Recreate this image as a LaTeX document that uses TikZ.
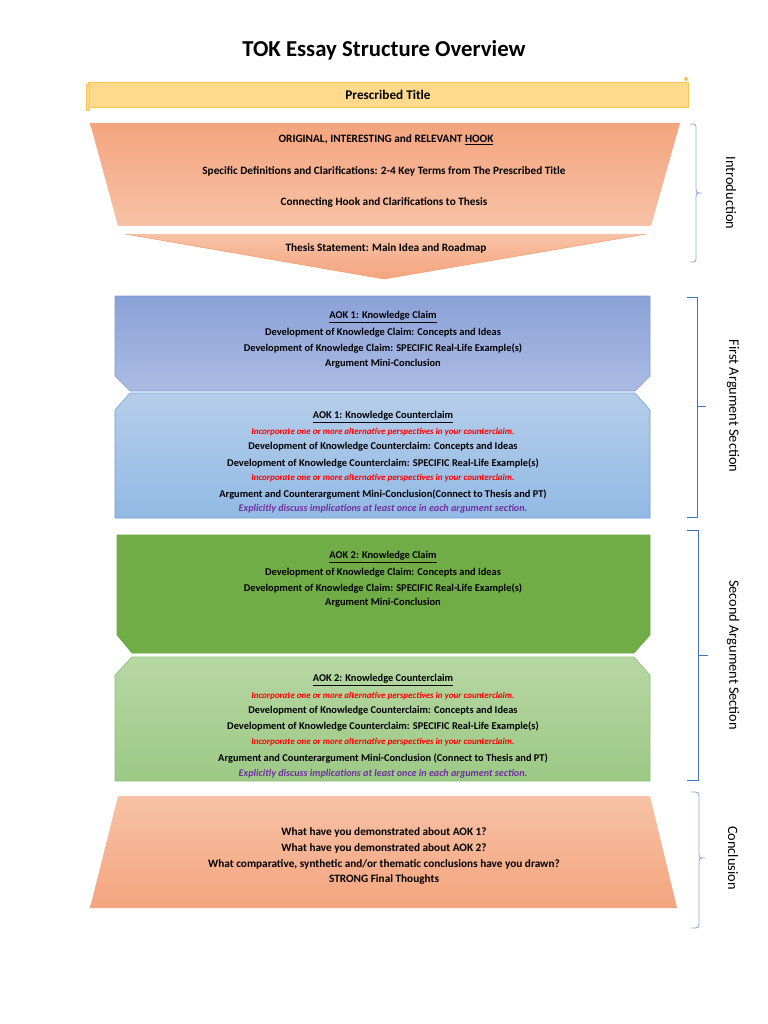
\documentclass[tikz,border=0pt]{standalone}
\usepackage{fontspec}
\setmainfont{Carlito}
\definecolor{hookA}{HTML}{F4A47E}
\definecolor{hookB}{HTML}{F7C2A6}
\definecolor{hookline}{HTML}{F4A070}
\definecolor{scrollfill}{HTML}{FFD98C}
\definecolor{scrollline}{HTML}{F8C64E}
\definecolor{claimA}{HTML}{8BA2D8}
\definecolor{claimB}{HTML}{ABBBE3}
\definecolor{claimline}{HTML}{7F9BD6}
\definecolor{counterA}{HTML}{B5CDEA}
\definecolor{counterB}{HTML}{92BAE5}
\definecolor{counterline}{HTML}{6C9ED6}
\definecolor{greenA}{HTML}{70AD47}
\definecolor{greenline}{HTML}{6AA842}
\definecolor{lgreenA}{HTML}{B7D7A3}
\definecolor{lgreenB}{HTML}{9CC986}
\definecolor{lgreenline}{HTML}{8DC072}
\definecolor{bracelight}{HTML}{8EA9DC}
\definecolor{bracedark}{HTML}{4472C4}
\definecolor{warnred}{HTML}{FF0000}
\definecolor{hintpurple}{HTML}{7030A0}
\tikzset{
  ln/.style={font=\fontsize{7.4}{9}\selectfont\bfseries,yshift=-1.5pt},
  lnbig/.style={font=\fontsize{8}{9.5}\selectfont\bfseries,yshift=-1.5pt},
  warn/.style={font=\fontsize{6.4}{7.5}\selectfont\bfseries\itshape,text=warnred,yshift=-1.2pt},
  hint/.style={font=\fontsize{7.2}{8.5}\selectfont\bfseries\itshape,text=hintpurple,yshift=-1.2pt},
  side/.style={font=\fontsize{10.2}{12}\selectfont,rotate=-90},
  brc/.style={draw=bracelight,line width=0.6pt},
  sqb/.style={draw=bracedark,line width=0.7pt}
}
\begin{document}
\begin{tikzpicture}[x=0.025cm,y=-0.025cm]
\useasboundingbox (0,0) rectangle (768,1024);
% title and scroll
\node (title) at (384,50)[font=\fontsize{16.2}{18}\selectfont\bfseries]{TOK Essay Structure Overview};
\draw[scrollline,fill=scrollfill,line width=0.6pt] (88,82) rectangle (688,107);
\draw[scrollline,fill=scrollfill,line width=0.6pt] (86,84) rectangle (89,110);
\draw[scrollline,fill=scrollfill!70!gray,line width=0.6pt] (686,79) circle (1.8);
\node (pt) at (388,94)[font=\fontsize{9.4}{11}\selectfont\bfseries,yshift=-1pt]{Prescribed Title};
% introduction
\coordinate (i1) at (90,123);
\coordinate (i2) at (680,123);
\coordinate (i3) at (651,226);
\coordinate (i4) at (118,226);
\shade[top color=hookA,bottom color=hookB] (i1) -- (i2) -- (i3) -- (i4) -- cycle;
\node (hook) at (386,138)[lnbig]{ORIGINAL, INTERESTING and RELEVANT \underline{HOOK}};
\node (defs) at (384,169)[lnbig]{Specific Definitions and Clarifications: 2-4 Key Terms from The Prescribed Title};
\node (conn) at (384,200)[lnbig]{Connecting Hook and Clarifications to Thesis};
\coordinate (t1) at (125,234);
\coordinate (t2) at (646,234);
\coordinate (t3) at (384,279);
\shade[top color=hookB,bottom color=hookA] (t1) -- (t2) -- (t3) -- cycle;
\draw[hookline,line width=0.4pt] (t1) -- (t3) -- (t2);
\node (thesis) at (386,246)[lnbig]{Thesis Statement: Main Idea and Roadmap};
% first argument
\shade[top color=claimA,bottom color=claimB,draw=claimline] (115,296) -- (650,296) -- (650,376) -- (635,391) -- (130,391) -- (115,376) -- cycle;
\node (c1) at (383,315)[ln]{\underline{AOK 1: Knowledge Claim}};
\node (c1a) at (383,331)[ln]{Development of Knowledge Claim: Concepts and Ideas};
\node (c1b) at (383,346)[ln]{Development of Knowledge Claim: SPECIFIC Real-Life Example(s)};
\node (c1c) at (383,362)[ln]{Argument Mini-Conclusion};
\shade[top color=counterA,bottom color=counterB,draw=counterline] (130,393) -- (635,393) -- (650,410) -- (650,518) -- (115,518) -- (115,410) -- cycle;
\node (k1) at (383,415)[ln]{\underline{AOK 1: Knowledge Counterclaim}};
\node (k1w) at (383,430)[warn]{Incorporate one or more alternative perspectives in your counterclaim.};
\node (k1a) at (383,445)[ln]{Development of Knowledge Counterclaim: Concepts and Ideas};
\node (k1b) at (383,461)[ln]{Development of Knowledge Counterclaim: SPECIFIC Real-Life Example(s)};
\node (k1v) at (383,476)[warn]{Incorporate one or more alternative perspectives in your counterclaim.};
\node (k1c) at (383,492)[ln]{Argument and Counterargument Mini-Conclusion(Connect to Thesis and PT)};
\node (k1h) at (383,507)[hint]{Explicitly discuss implications at least once in each argument section.};
% second argument
\fill[greenA,draw=greenline] (117,535) -- (650,535) -- (650,635) -- (634,653) -- (132,653) -- (117,635) -- cycle;
\node (c2) at (383,555)[ln]{\underline{AOK 2: Knowledge Claim}};
\node (c2a) at (383,571)[ln]{Development of Knowledge Claim: Concepts and Ideas};
\node (c2b) at (383,586)[ln]{Development of Knowledge Claim: SPECIFIC Real-Life Example(s)};
\node (c2c) at (383,601)[ln]{Argument Mini-Conclusion};
\shade[top color=lgreenA,bottom color=lgreenB,draw=lgreenline] (132,657) -- (634,657) -- (650,675) -- (650,781) -- (115,781) -- (115,675) -- cycle;
\node (k2) at (383,678)[ln]{\underline{AOK 2: Knowledge Counterclaim}};
\node (k2w) at (383,694)[warn]{Incorporate one or more alternative perspectives in your counterclaim.};
\node (k2a) at (383,709)[ln]{Development of Knowledge Counterclaim: Concepts and Ideas};
\node (k2b) at (383,724)[ln]{Development of Knowledge Counterclaim: SPECIFIC Real-Life Example(s)};
\node (k2v) at (383,740)[warn]{Incorporate one or more alternative perspectives in your counterclaim.};
\node (k2c) at (383,756)[ln]{Argument and Counterargument Mini-Conclusion (Connect to Thesis and PT)};
\node (k2h) at (383,772)[hint]{Explicitly discuss implications at least once in each argument section.};
% conclusion
\shade[top color=hookB,bottom color=hookA] (118,796) -- (650,796) -- (677,908) -- (90,908) -- cycle;
\node (q1) at (384,830)[lnbig]{What have you demonstrated about AOK 1?};
\node (q2) at (384,846)[lnbig]{What have you demonstrated about AOK 2?};
\node (q3) at (384,862)[lnbig]{What comparative, synthetic and/or thematic conclusions have you drawn?};
\node (q4) at (384,877)[lnbig]{STRONG Final Thoughts};
% side brackets
\draw[brc] (690,124) .. controls (696,124) .. (696,130) -- (696,187) .. controls (696,193) .. (702,193) .. controls (696,193) .. (696,199) -- (696,256) .. controls (696,262) .. (690,262);
\node (sintro) at (731,193)[side]{Introduction};
\draw[sqb] (687,297) -- (697,297) -- (697,517) -- (687,517);
\draw[sqb] (697,406) -- (706,406);
\node (sfirst) at (733,406)[side]{First Argument Section};
\draw[sqb] (687,530) -- (698,530) -- (698,780) -- (687,780);
\draw[sqb] (698,655) -- (708,655);
\node (ssecond) at (733,655)[side]{Second Argument Section};
\draw[brc] (691,792) .. controls (699,792) .. (699,798) -- (699,852) .. controls (699,858) .. (705,858) .. controls (699,858) .. (699,864) -- (699,922) .. controls (699,928) .. (691,928);
\node (sconc) at (733,858)[side]{Conclusion};
\end{tikzpicture}
\end{document}
